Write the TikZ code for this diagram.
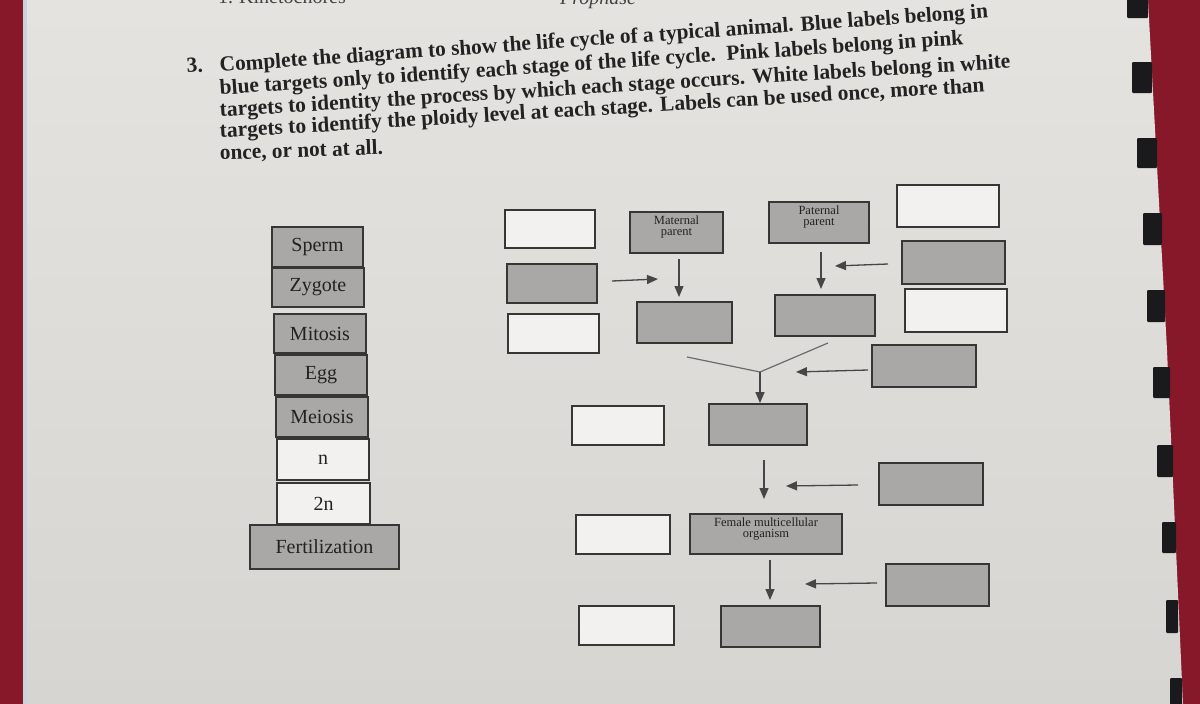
\documentclass[tikz,border=0pt]{standalone}
\usepackage{fontspec}
\setmainfont{Liberation Serif}
\usetikzlibrary{arrows.meta}
\definecolor{paperT}{HTML}{E4E3E0}
\definecolor{paperB}{HTML}{D7D5D2}
\definecolor{leather}{HTML}{86182A}
\definecolor{boxgray}{HTML}{A9A8A6}
\definecolor{boxline}{HTML}{363636}
\definecolor{arrowc}{HTML}{464646}
\definecolor{ink}{HTML}{222222}
\definecolor{holec}{HTML}{1A1A1C}
\definecolor{edgec}{HTML}{C9D3DA}
\tikzset{
  lbl/.style={draw=boxline, line width=1.8pt, inner sep=0pt, text=ink,
    font=\fontsize{20}{22}\selectfont},
  gbox/.style={lbl, fill=boxgray},
  wbox/.style={lbl, fill=paperT!50!white},
  arr/.style={draw=arrowc, line width=1.3pt, -{Triangle[length=11pt,width=9pt]}},
  vline/.style={draw=arrowc!80, line width=1.2pt},
  qline/.style={anchor=base west, inner sep=0pt, text=ink,
    font=\bfseries\fontsize{21.5}{22}\selectfont},
  cut/.style={anchor=base west, inner sep=0pt, text=ink!85,
    font=\fontsize{20}{22}\selectfont},
  hole/.style={fill=holec, rounded corners=1pt},
}
\newcommand{\twoline}[3]{\parbox[c][#2pt][t]{#1pt}{\centering\fontsize{12.5}{11}\selectfont\vspace{4pt}#3}}
\begin{document}
\begin{tikzpicture}[x=1pt,y=-1pt]
\useasboundingbox (0,0) rectangle (1200,704);
\clip (0,0) rectangle (1200,704);
% background
\fill[leather] (0,0) rectangle (1200,704);
\shade[top color=paperT, bottom color=paperB] (25,0) -- (1148,0) -- (1167,350) -- (1183,704) -- (25,704) -- cycle;
\fill[edgec] (23,0) rectangle (27,704);
\fill[hole] (1127,-4) rectangle (1148,18);
\fill[hole] (1132,62) rectangle (1152,93);
\fill[hole] (1137,138) rectangle (1157,168);
\fill[hole] (1143,213) rectangle (1162,245);
\fill[hole] (1147,290) rectangle (1165,322);
\fill[hole] (1153,367) rectangle (1170,398);
\fill[hole] (1157,445) rectangle (1173,477);
\fill[hole] (1162,522) rectangle (1176,553);
\fill[hole] (1166,600) rectangle (1178,633);
\fill[hole] (1170,678) rectangle (1182,708);
% cut-off text at top
\node[cut] (t1) at (218,3) {1.\hspace{6pt}Kinetochores};
\node[cut, font=\itshape\fontsize{20}{22}\selectfont] (t2) at (560,5) {Prophase};
% question
\node[qline, rotate=4] (q0) at (187,73) {3.};
\node[qline, rotate=4.03] (q1) at (220,72) {\resizebox{770pt}{\height}{Complete the diagram to show the life cycle of a typical animal. Blue labels belong in}};
\node[qline, rotate=3.87] (q2) at (220,95) {\resizebox{745pt}{\height}{blue targets only to identify each stage of the life cycle.\ \ Pink labels belong in pink}};
\node[qline, rotate=3.55] (q3) at (220,117) {\resizebox{792pt}{\height}{targets to identity the process by which each stage occurs. White labels belong in white}};
\node[qline, rotate=3.44] (q4) at (220,138) {\resizebox{766pt}{\height}{targets to identify the ploidy level at each stage. Labels can be used once, more than}};
\node[qline, rotate=2] (q5) at (220,160) {\resizebox{163pt}{\height}{once, or not at all.}};
% label bank
\node[gbox, minimum width=91pt, minimum height=40pt] (sperm) at (317.5,247) {Sperm};
\node[gbox, minimum width=92pt, minimum height=39pt] (zygote) at (318,287.5) {Zygote};
\node[gbox, minimum width=92pt, minimum height=39pt] (mitosis) at (320,333.5) {Mitosis};
\node[gbox, minimum width=92pt, minimum height=40pt] (egg) at (321,375) {Egg};
\node[gbox, minimum width=92pt, minimum height=40pt] (meiosis) at (322,417) {Meiosis};
\node[wbox, minimum width=92pt, minimum height=41pt] (n) at (323,459.5) {n};
\node[wbox, minimum width=93pt, minimum height=41pt] (twon) at (323.5,503.5) {2n};
\node[gbox, minimum width=149pt, minimum height=44pt] (fert) at (324.5,547) {Fertilization};
% diagram targets
\node[wbox, minimum width=90pt, minimum height=38pt] (wA) at (550,229) {};
\node[gbox, minimum width=90pt, minimum height=39pt] (gB) at (552,283.5) {};
\node[wbox, minimum width=91pt, minimum height=39pt] (wC) at (553.5,333.5) {};
\node[gbox] (mat) at (676.5,232.5) {\twoline{93}{41}{Maternal\\parent}};
\node[gbox] (pat) at (819,222.5) {\twoline{100}{41}{Paternal\\parent}};
\node[wbox, minimum width=102pt, minimum height=42pt] (wTR) at (948,206) {};
\node[gbox, minimum width=103pt, minimum height=43pt] (gR1) at (953.5,262.5) {};
\node[wbox, minimum width=102pt, minimum height=43pt] (wR2) at (956,310.5) {};
\node[gbox, minimum width=95pt, minimum height=41pt] (gMat) at (684.5,322.5) {};
\node[gbox, minimum width=100pt, minimum height=41pt] (gPat) at (825,315.5) {};
\node[gbox, minimum width=104pt, minimum height=42pt] (gR3) at (924,366) {};
\node[wbox, minimum width=92pt, minimum height=39pt] (wL4) at (618,425.5) {};
\node[gbox, minimum width=98pt, minimum height=41pt] (gZ) at (758,424.5) {};
\node[gbox, minimum width=104pt, minimum height=42pt] (gR4) at (931,484) {};
\node[wbox, minimum width=94pt, minimum height=39pt] (wL5) at (623,534.5) {};
\node[gbox] (fem) at (766,534) {\twoline{152}{40}{Female multicellular\\organism}};
\node[gbox, minimum width=103pt, minimum height=42pt] (gR5) at (937.5,585) {};
\node[wbox, minimum width=95pt, minimum height=39pt] (wL6) at (626.5,625.5) {};
\node[gbox, minimum width=99pt, minimum height=41pt] (gB6) at (770.5,626.5) {};
% arrow end points
\coordinate (a1s) at (612,281); \coordinate (a1e) at (658,279);
\coordinate (a2s) at (679,259); \coordinate (a2e) at (679,297);
\coordinate (a3s) at (821,252); \coordinate (a3e) at (821,289);
\coordinate (a4s) at (888,264); \coordinate (a4e) at (835,266);
\coordinate (v1) at (687,357); \coordinate (v0) at (760,372); \coordinate (v2) at (828,343);
\coordinate (a5s) at (868,370); \coordinate (a5e) at (796,372);
\coordinate (a6s) at (764,460); \coordinate (a6e) at (764,499);
\coordinate (a7s) at (858,485); \coordinate (a7e) at (786,486);
\coordinate (a8s) at (770,560); \coordinate (a8e) at (770,600);
\coordinate (a9s) at (877,583); \coordinate (a9e) at (805,584);
% connectors
\draw[arr] (a1s) -- (a1e);
\draw[arr] (a2s) -- (a2e);
\draw[arr] (a3s) -- (a3e);
\draw[arr] (a4s) -- (a4e);
\draw[vline] (v1) -- (v0) -- (v2);
\draw[arr] (v0) -- (v0 |- gZ.north);
\draw[arr] (a5s) -- (a5e);
\draw[arr] (a6s) -- (a6e);
\draw[arr] (a7s) -- (a7e);
\draw[arr] (a8s) -- (a8e);
\draw[arr] (a9s) -- (a9e);
\end{tikzpicture}
\end{document}
